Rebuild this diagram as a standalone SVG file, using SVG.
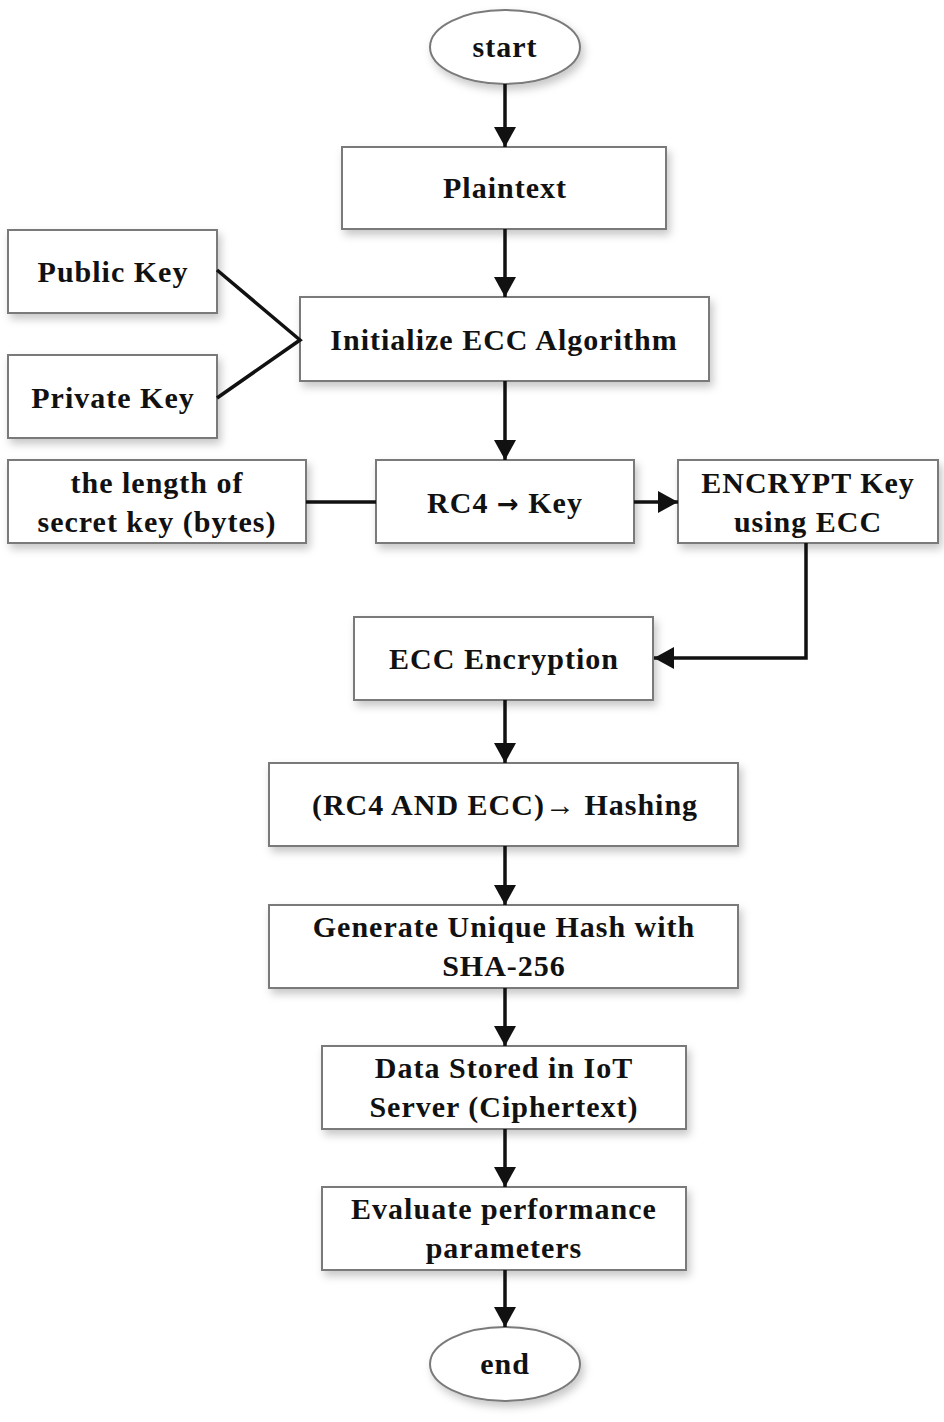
<svg xmlns="http://www.w3.org/2000/svg" width="944" height="1422" viewBox="0 0 944 1422">
<style>
.box{fill:#fff;stroke:#7a7a7a;stroke-width:2;filter:url(#sh)}
.t{font-family:"Liberation Serif","Times New Roman",serif;font-weight:bold;font-size:30px;fill:#111;text-anchor:middle;letter-spacing:1px}
.ar{font-family:"DejaVu Sans",sans-serif;font-weight:bold;font-size:26px}
.c{fill:none;stroke:#111;stroke-width:3.5}
</style>
<defs>
<filter id="sh" x="-10%" y="-20%" width="125%" height="150%">
<feDropShadow dx="3" dy="5" stdDeviation="4" flood-color="#000" flood-opacity="0.22"/>
</filter>
<marker id="ah" markerUnits="userSpaceOnUse" markerWidth="22" markerHeight="22" viewBox="0 0 22 22" refX="20" refY="11" orient="auto">
<path d="M0,0 L20,11 L0,22 Z" fill="#111"/>
</marker>
</defs>
<g id="start"><ellipse class="box" cx="505" cy="47" rx="75" ry="37"/><text class="t" x="505" y="57">start</text></g>
<g id="plaintext"><rect class="box" x="342" y="147" width="324" height="82"/><text class="t" x="505" y="198">Plaintext</text></g>
<g id="public-key"><rect class="box" x="8" y="230" width="209" height="83"/><text class="t" x="113" y="282">Public Key</text></g>
<g id="private-key"><rect class="box" x="8" y="355" width="209" height="83"/><text class="t" x="113" y="408">Private Key</text></g>
<g id="init-ecc"><rect class="box" x="300" y="297" width="409" height="84"/><text class="t" x="504" y="350">Initialize ECC Algorithm</text></g>
<g id="length"><rect class="box" x="8" y="460" width="298" height="83"/><text class="t" x="157" y="493">the length of</text><text class="t" x="157" y="532">secret key (bytes)</text></g>
<g id="rc4-key"><rect class="box" x="376" y="460" width="258" height="83"/><text class="t" x="505" y="513">RC4 <tspan class="ar">→</tspan> Key</text></g>
<g id="encrypt-key"><rect class="box" x="678" y="460" width="260" height="83"/><text class="t" x="808" y="493">ENCRYPT Key</text><text class="t" x="808" y="532">using ECC</text></g>
<g id="ecc-enc"><rect class="box" x="354" y="617" width="299" height="83"/><text class="t" x="504" y="669">ECC Encryption</text></g>
<g id="hashing"><rect class="box" x="269" y="763" width="469" height="83"/><text class="t" x="505" y="815">(RC4 AND ECC)→ Hashing</text></g>
<g id="sha"><rect class="box" x="269" y="905" width="469" height="83"/><text class="t" x="504" y="937">Generate Unique Hash with</text><text class="t" x="504" y="976">SHA-256</text></g>
<g id="stored"><rect class="box" x="322" y="1046" width="364" height="83"/><text class="t" x="504" y="1078">Data Stored in IoT</text><text class="t" x="504" y="1117">Server (Ciphertext)</text></g>
<g id="evaluate"><rect class="box" x="322" y="1187" width="364" height="83"/><text class="t" x="504" y="1219">Evaluate performance</text><text class="t" x="504" y="1258">parameters</text></g>
<g id="end"><ellipse class="box" cx="505" cy="1364" rx="75" ry="37"/><text class="t" x="505" y="1374">end</text></g>
<g id="connectors">
<line class="c" x1="505" y1="84" x2="505" y2="147" marker-end="url(#ah)"/>
<line class="c" x1="505" y1="229" x2="505" y2="297" marker-end="url(#ah)"/>
<polyline class="c" points="217,270 300,340 217,398"/>
<line class="c" x1="505" y1="381" x2="505" y2="460" marker-end="url(#ah)"/>
<line class="c" x1="306" y1="502" x2="376" y2="502"/>
<line class="c" x1="634" y1="502" x2="678" y2="502" marker-end="url(#ah)"/>
<polyline class="c" points="806,543 806,658 654,658" marker-end="url(#ah)"/>
<line class="c" x1="505" y1="700" x2="505" y2="763" marker-end="url(#ah)"/>
<line class="c" x1="505" y1="846" x2="505" y2="905" marker-end="url(#ah)"/>
<line class="c" x1="505" y1="988" x2="505" y2="1046" marker-end="url(#ah)"/>
<line class="c" x1="505" y1="1129" x2="505" y2="1187" marker-end="url(#ah)"/>
<line class="c" x1="505" y1="1270" x2="505" y2="1327" marker-end="url(#ah)"/>
</g>
</svg>
